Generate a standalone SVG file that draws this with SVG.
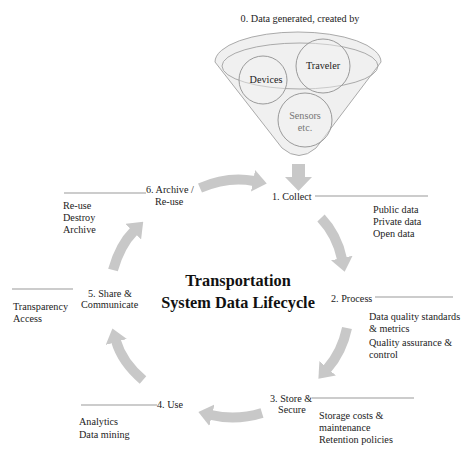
<svg xmlns="http://www.w3.org/2000/svg" width="474" height="452" viewBox="0 0 474 452" font-family="'Liberation Serif', 'DejaVu Serif', serif">
<style>
text{font-family:"Liberation Serif","DejaVu Serif",serif}
.t{font-size:10.2px;fill:#222}
.title{font-size:16.3px;font-weight:bold;fill:#111}
.rule{stroke:#999;stroke-width:1.2;fill:none}
.arrow{stroke:#c8c8c8;stroke-width:10;fill:none;marker-end:url(#head)}
.circ{fill:#f2f2f2;fill-opacity:0.45;stroke:#9a9a9a;stroke-width:1}
</style>
<defs>
<marker id="head" markerUnits="userSpaceOnUse" markerWidth="14" markerHeight="22" viewBox="0 0 14 22" refX="1" refY="11" orient="auto">
<path d="M0,0 L14,11 L0,22 z" fill="#c8c8c8"/>
</marker>
</defs>
<rect width="474" height="452" fill="#fff"/>

<g id="source">
<text class="t" x="300" y="22" text-anchor="middle">0. Data generated, created by</text>
<path d="M215,62 A83,30 0 0 1 381,62 L316,148 Q299,163 282,148 Z" fill="#f0f0f0" stroke="#aaaaaa" stroke-width="1"/>
<ellipse cx="300" cy="66" rx="78" ry="23" fill="none" stroke="#aaaaaa" stroke-width="1"/>
<circle class="circ" cx="263" cy="80" r="24"/>
<circle class="circ" cx="323" cy="66" r="27"/>
<circle class="circ" cx="305" cy="120" r="27"/>
<text class="t" x="266" y="83" text-anchor="middle">Devices</text>
<text class="t" x="323" y="69" text-anchor="middle">Traveler</text>
<text class="t" x="305" y="119" text-anchor="middle" style="fill:#777">Sensors</text>
<text class="t" x="305" y="131" text-anchor="middle" style="fill:#777">etc.</text>
<polygon points="292,164 305,164 305,177 312,177 298.5,191 285,177 292,177" fill="#c8c8c8"/>
</g>

<g id="title">
<text class="title" x="238" y="286" text-anchor="middle">Transportation</text>
<text class="title" x="238" y="308" text-anchor="middle">System Data Lifecycle</text>
</g>

<g id="collect">
<text class="t" x="272" y="200">1. Collect</text>
<line class="rule" x1="315" y1="196" x2="428" y2="196"/>
<text class="t" x="373" y="213">Public data</text>
<text class="t" x="373" y="225">Private data</text>
<text class="t" x="373" y="237">Open data</text>
</g>

<g id="process">
<text class="t" x="331" y="302">2. Process</text>
<line class="rule" x1="375" y1="297" x2="453" y2="297"/>
<text class="t" x="369" y="320">Data quality standards</text>
<text class="t" x="369" y="332">&amp; metrics</text>
<text class="t" x="369" y="346">Quality assurance &amp;</text>
<text class="t" x="369" y="358">control</text>
</g>

<g id="store">
<text class="t" x="270" y="402">3. Store &amp;</text>
<text class="t" x="278" y="413">Secure</text>
<line class="rule" x1="312" y1="398" x2="414" y2="398"/>
<text class="t" x="319" y="419">Storage costs &amp;</text>
<text class="t" x="319" y="431">maintenance</text>
<text class="t" x="319" y="443">Retention policies</text>
</g>

<g id="use">
<line class="rule" x1="81" y1="405" x2="157" y2="405"/>
<text class="t" x="157" y="408">4. Use</text>
<text class="t" x="79" y="425">Analytics</text>
<text class="t" x="79" y="438">Data mining</text>
</g>

<g id="share">
<text class="t" x="88" y="297">5. Share &amp;</text>
<text class="t" x="81" y="308">Communicate</text>
<line class="rule" x1="12" y1="289" x2="73" y2="289"/>
<text class="t" x="13" y="310">Transparency</text>
<text class="t" x="13" y="322">Access</text>
</g>

<g id="archive">
<line class="rule" x1="64" y1="193" x2="146" y2="193"/>
<text class="t" x="146" y="193">6. Archive /</text>
<text class="t" x="155" y="205">Re-use</text>
<text class="t" x="63" y="209">Re-use</text>
<text class="t" x="63" y="221">Destroy</text>
<text class="t" x="63" y="233">Archive</text>
</g>

<g id="connectors">
<path class="arrow" d="M200,188 Q228,176 254,181"/>
<path class="arrow" d="M321,218 Q337,235 342,259"/>
<path class="arrow" d="M347,328 Q342,352 327,369"/>
<path class="arrow" d="M262,413 Q236,421 211,415"/>
<path class="arrow" d="M143,380 Q122,362 116,341"/>
<path class="arrow" d="M113,270 Q120,245 134,231"/>
</g>
</svg>
